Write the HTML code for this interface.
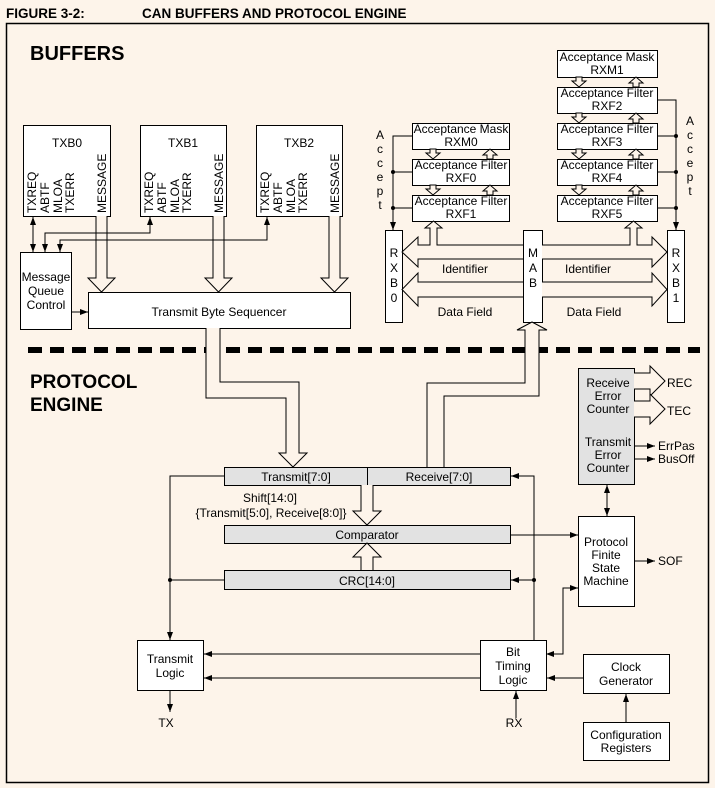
<!DOCTYPE html>
<html><head><meta charset="utf-8"><style>
html,body{margin:0;padding:0;background:#fdf4ea;}
svg{display:block;}
text{font-family:"Liberation Sans",Arial,sans-serif;font-size:12px;fill:#000;}
.b{font-weight:bold;}
</style></head><body>
<svg width="715" height="788" viewBox="0 0 715 788" xmlns="http://www.w3.org/2000/svg">
<defs>
<marker id="a" markerUnits="userSpaceOnUse" markerWidth="9" markerHeight="7" refX="8" refY="3" orient="auto"><path d="M0,0 L8,3 L0,6 z" fill="#000"/></marker>
<marker id="s" markerUnits="userSpaceOnUse" markerWidth="9" markerHeight="7" refX="0" refY="3" orient="auto"><path d="M8,0 L0,3 L8,6 z" fill="#000"/></marker>
</defs>
<rect width="715" height="788" fill="#fdf4ea"/>
<text x="6" y="18" class="b" style="font-size:13.5px">FIGURE 3-2:</text>
<text x="142" y="18" class="b" style="font-size:13.5px">CAN BUFFERS AND PROTOCOL ENGINE</text>
<rect x="6.5" y="23.5" width="702" height="759" fill="none" stroke="#000" stroke-width="1.5"/>
<text x="30" y="60" class="b" style="font-size:20px">BUFFERS</text>
<text x="30" y="388" class="b" style="font-size:19px">PROTOCOL</text>
<text x="30" y="411" class="b" style="font-size:19px">ENGINE</text>
<line x1="28" y1="350" x2="700" y2="350" stroke="#000" stroke-width="6" stroke-dasharray="14,8"/>

<g fill="#fff" stroke="#000" stroke-width="1">
<rect x="23.5" y="125.5" width="87" height="91"/>
<rect x="140.5" y="125.5" width="86" height="91"/>
<rect x="256.5" y="125.5" width="86" height="91"/>
<rect x="20.5" y="252.5" width="51" height="77"/>
<rect x="88.5" y="292.5" width="262" height="36"/>
<rect x="557.5" y="50.5" width="100" height="27"/>
<rect x="557.5" y="87.5" width="100" height="26"/>
<rect x="557.5" y="123.5" width="100" height="26"/>
<rect x="557.5" y="159.5" width="100" height="26"/>
<rect x="557.5" y="195.5" width="100" height="26"/>
<rect x="412.5" y="123.5" width="97" height="26"/>
<rect x="412.5" y="159.5" width="97" height="26"/>
<rect x="412.5" y="195.5" width="97" height="26"/>
<rect x="385.5" y="230.5" width="17" height="92"/>
<rect x="523.5" y="230.5" width="19" height="92"/>
<rect x="667.5" y="230.5" width="17" height="92"/>
<rect x="578.5" y="516.5" width="56" height="90"/>
<rect x="137.5" y="640.5" width="66" height="50"/>
<rect x="480.5" y="640.5" width="66" height="50"/>
<rect x="583.5" y="654.5" width="86" height="39"/>
<rect x="583.5" y="722.5" width="86" height="38"/>
</g>
<g fill="#e2e2e2" stroke="#000" stroke-width="1">
<rect x="224.5" y="467.5" width="143" height="18"/>
<rect x="367.5" y="467.5" width="143" height="18"/>
<rect x="224.5" y="525.5" width="286" height="18"/>
<rect x="224.5" y="570.5" width="286" height="19"/>
<rect x="578.5" y="368.5" width="56" height="116"/>
</g>

<g text-anchor="middle"><text x="67" y="147">TXB0</text><text x="183" y="147">TXB1</text><text x="299" y="147">TXB2</text></g>
<g id="tx">
<text transform="translate(36,213) rotate(-90)">TXREQ</text>
<text transform="translate(49,213) rotate(-90)">ABTF</text>
<text transform="translate(62,213) rotate(-90)">MLOA</text>
<text transform="translate(74,213) rotate(-90)">TXERR</text>
<text transform="translate(106,213) rotate(-90)">MESSAGE</text>
</g>
<use href="#tx" x="117"/><use href="#tx" x="233"/>

<g fill="#fdf4ea" stroke="#000" stroke-width="1">
<polyline points="96,216 96,278 88,278 101.5,292 115,278 107,278 107,216"/>
<polyline points="213,216 213,278 205,278 218.5,292 232,278 224,278 224,216"/>
<polyline points="329,216 329,278 321,278 334.5,292 348,278 340,278 340,216"/>
<polyline points="523,245 437,245 437,228 442,228 433.5,221 425,228 430,228 430,245 418,245 418,237 402,252 418,267 418,259 523,259"/>
<polyline points="542,245 630,245 630,228 625,228 633.5,221 642,228 637,228 637,245 652,245 652,237 667,252 652,267 652,259 542,259"/>
<polyline points="523,282 418,282 418,273 402,289.5 418,306 418,297 523,297"/>
<polyline points="542,282 652,282 652,273 667,289.5 652,306 652,297 542,297"/>
<polyline points="427,467 427,383 525,383 525,330 517,330 532,322 547,330 539,330 539,396 444,396 444,467"/>
<polyline points="206,328 206,398 286,398 286,453 279,453 293,467 307,453 299,453 299,382 220,382 220,328"/>
<polyline points="361,485 361,511 353,511 367,525 381,511 373,511 373,485"/>
<polyline points="361,570 361,557 353,557 367,543 381,557 373,557 373,570"/>
<polyline points="634,373 650,373 650,366 665,381 650,396 650,389 634,389"/>
<polyline points="634,401 650,401 650,394 665,409 650,424 650,417 634,417"/>
</g>
<g fill="#fdf4ea" stroke="#000" stroke-width="1">
<path id="dn" d="M430,149 h6 v4 h4 l-7,6 l-7,-6 h4 z"/>
<path id="up" d="M487,159 h6 v-4 h4 l-7,-6 l-7,6 h4 z"/>
<use href="#dn" y="36"/><use href="#up" y="36"/>
<use href="#dn" x="146" y="-72"/><use href="#up" x="146" y="-72"/>
<use href="#dn" x="146" y="-36"/><use href="#up" x="146" y="-36"/>
<use href="#dn" x="146"/><use href="#up" x="146"/>
<use href="#dn" x="146" y="36"/><use href="#up" x="146" y="36"/>
</g>

<g stroke="#000" stroke-width="1" fill="none">
<line x1="33" y1="217" x2="33" y2="252" marker-start="url(#s)" marker-end="url(#a)"/>
<polyline points="150,217 150,233 45,233 45,252" marker-start="url(#s)" marker-end="url(#a)"/>
<polyline points="267,217 267,240 60,240 60,252" marker-start="url(#s)" marker-end="url(#a)"/>
<line x1="71" y1="312" x2="88" y2="312" marker-end="url(#a)"/>
<polyline points="412,136 393,136 393,230" marker-end="url(#a)"/>
<line x1="412" y1="172" x2="393" y2="172"/><line x1="412" y1="208" x2="393" y2="208"/>
<polyline points="657,100 676,100 676,230" marker-end="url(#a)"/>
<line x1="657" y1="136" x2="676" y2="136"/><line x1="657" y1="172" x2="676" y2="172"/><line x1="657" y1="208" x2="676" y2="208"/>
<polyline points="224,476 170,476 170,640" marker-end="url(#a)"/>
<line x1="224" y1="580" x2="170" y2="580"/>
<polyline points="534,640 534,476 511,476" marker-end="url(#a)"/>
<line x1="534" y1="580" x2="511" y2="580" marker-end="url(#a)"/>
<line x1="510" y1="535" x2="578" y2="535" marker-end="url(#a)"/>
<line x1="607" y1="485" x2="607" y2="516" marker-start="url(#s)" marker-end="url(#a)"/>
<line x1="634" y1="446" x2="655" y2="446" marker-end="url(#a)"/>
<line x1="634" y1="459" x2="655" y2="459" marker-end="url(#a)"/>
<line x1="634" y1="561" x2="655" y2="561" marker-end="url(#a)"/>
<polyline points="546,654 563,654 563,588 578,588" marker-start="url(#s)" marker-end="url(#a)"/>
<line x1="480" y1="654" x2="204" y2="654" marker-end="url(#a)"/>
<line x1="480" y1="678" x2="204" y2="678" marker-end="url(#a)"/>
<line x1="583" y1="678" x2="547" y2="678" marker-end="url(#a)"/>
<line x1="626" y1="722" x2="626" y2="694" marker-end="url(#a)"/>
<line x1="170" y1="690" x2="170" y2="712" marker-end="url(#a)"/>
<line x1="516" y1="718" x2="516" y2="691" marker-end="url(#a)"/>
</g>
<g fill="#000">
<circle cx="393" cy="172" r="2"/><circle cx="393" cy="208" r="2"/>
<circle cx="676" cy="136" r="2"/><circle cx="676" cy="172" r="2"/><circle cx="676" cy="208" r="2"/>
<circle cx="170" cy="580" r="2"/><circle cx="534" cy="580" r="2"/>
</g>

<g text-anchor="middle">
<text x="46" y="281">Message</text><text x="46" y="295">Queue</text><text x="46" y="309">Control</text>
<text x="219" y="316">Transmit Byte Sequencer</text>
<text x="607" y="61">Acceptance Mask</text><text x="607" y="74">RXM1</text>
<text x="607" y="97">Acceptance Filter</text><text x="607" y="110">RXF2</text>
<text x="607" y="133">Acceptance Filter</text><text x="607" y="146">RXF3</text>
<text x="607" y="169">Acceptance Filter</text><text x="607" y="182">RXF4</text>
<text x="607" y="205">Acceptance Filter</text><text x="607" y="218">RXF5</text>
<text x="461" y="133">Acceptance Mask</text><text x="461" y="146">RXM0</text>
<text x="461" y="169">Acceptance Filter</text><text x="461" y="182">RXF0</text>
<text x="461" y="205">Acceptance Filter</text><text x="461" y="218">RXF1</text>
<text x="394" y="257">R</text><text x="394" y="272">X</text><text x="394" y="287">B</text><text x="394" y="302">0</text>
<text x="533" y="257">M</text><text x="533" y="272">A</text><text x="533" y="287">B</text>
<text x="676" y="257">R</text><text x="676" y="272">X</text><text x="676" y="287">B</text><text x="676" y="302">1</text>
<text x="465" y="273">Identifier</text><text x="588" y="273">Identifier</text>
<text x="465" y="316">Data Field</text><text x="594" y="316">Data Field</text>
<text x="296" y="481">Transmit[7:0]</text><text x="439" y="481">Receive[7:0]</text>
<text x="270" y="502">Shift[14:0]</text>
<text x="271" y="517">{Transmit[5:0], Receive[8:0]}</text>
<text x="367" y="539">Comparator</text>
<text x="367" y="585">CRC[14:0]</text>
<text x="608" y="387">Receive</text><text x="608" y="400">Error</text><text x="608" y="413">Counter</text>
<text x="608" y="446">Transmit</text><text x="608" y="459">Error</text><text x="608" y="472">Counter</text>
<text x="606" y="546">Protocol</text><text x="606" y="559">Finite</text><text x="606" y="572">State</text><text x="606" y="585">Machine</text>
<text x="170" y="663">Transmit</text><text x="170" y="677">Logic</text>
<text x="513" y="656">Bit</text><text x="513" y="670">Timing</text><text x="513" y="684">Logic</text>
<text x="626" y="671">Clock</text><text x="626" y="685">Generator</text>
<text x="626" y="739">Configuration</text><text x="626" y="752">Registers</text>
<text x="166" y="727">TX</text><text x="514" y="727">RX</text>
</g>
<g style="font-size:14px" text-anchor="middle">
<text x="380" y="139">A</text><text x="380" y="153">c</text><text x="380" y="167">c</text><text x="380" y="181">e</text><text x="380" y="195">p</text><text x="380" y="209">t</text>
<text x="690" y="125">A</text><text x="690" y="139">c</text><text x="690" y="153">c</text><text x="690" y="167">e</text><text x="690" y="181">p</text><text x="690" y="195">t</text>
</g>
<text x="667" y="387">REC</text><text x="667" y="415">TEC</text>
<text x="658" y="450">ErrPas</text><text x="658" y="463">BusOff</text>
<text x="658" y="565">SOF</text>
</svg>
</body></html>
